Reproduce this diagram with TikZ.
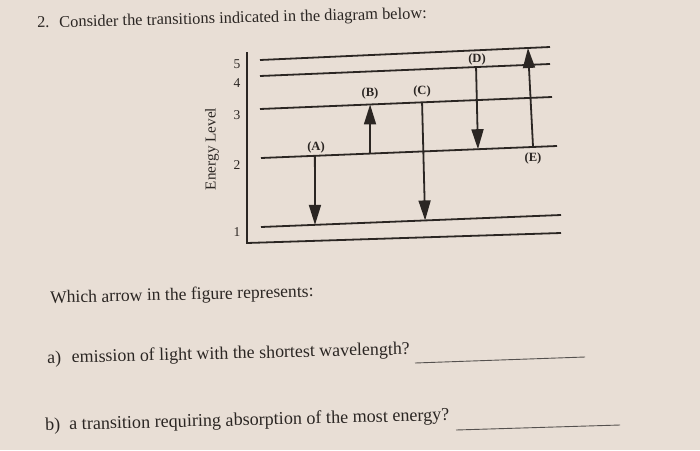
\documentclass[tikz,border=0pt]{standalone}
\usepackage{fontspec}
\setmainfont{Liberation Serif}
\usetikzlibrary{calc,arrows.meta}
\definecolor{paper}{HTML}{E8DED5}
\definecolor{ink}{HTML}{2B2623}
\tikzset{
  lvl/.style={line width=1.8pt, draw=ink},
  trans/.style={line width=1.8pt, draw=ink, -{Triangle[length=20pt,width=12pt]}},
  lab/.style={font=\bfseries\fontsize{12.6}{14}\selectfont, text=ink, inner sep=0pt},
  num/.style={font=\fontsize{13.5}{15}\selectfont, text=ink, inner sep=0pt},
  qtext/.style={text=ink, anchor=west, inner sep=0pt, rotate=1.4},
  blank/.style={line width=0.9pt, draw=ink!80}
}
\begin{document}
\begin{tikzpicture}[x=1pt,y=-1pt]
\fill[paper] (0,0) rectangle (700,450);
\useasboundingbox (0,0) rectangle (700,450);

% axes
\coordinate (ax) at (247,52);
\coordinate (ao) at (247,243);
\coordinate (ar) at (561,233);
\draw[lvl] (ax) -- (ao) -- (ar);

% levels
\coordinate (L5a) at (260,60);  \coordinate (L5b) at (550,47);
\coordinate (L4a) at (260,76);  \coordinate (L4b) at (550,64);
\coordinate (L3a) at (260,109); \coordinate (L3b) at (552,97);
\coordinate (L2a) at (261,158); \coordinate (L2b) at (557,146);
\coordinate (L1a) at (261,227); \coordinate (L1b) at (561,215);
\foreach \i in {1,...,5}{\draw[lvl] (L\i a) -- (L\i b);}

% transition end points
\coordinate (A2) at ($(L2a)!0.182!(L2b)$);
\coordinate (A1) at ($(L1a)!0.180!(L1b)$);
\coordinate (B2) at ($(L2a)!0.368!(L2b)$);
\coordinate (B3) at ($(L3a)!0.377!(L3b)$);
\coordinate (C3) at ($(L3a)!0.555!(L3b)$);
\coordinate (C1) at ($(L1a)!0.547!(L1b)$);
\coordinate (D4) at ($(L4a)!0.745!(L4b)$);
\coordinate (D2) at ($(L2a)!0.733!(L2b)$);
\coordinate (E2) at ($(L2a)!0.919!(L2b)$);
\coordinate (E5) at ($(L5a)!0.924!(L5b)$);

\draw[trans] (A2) -- (A1);
\draw[trans] (B2) -- (B3);
\draw[trans] (C3) -- (C1);
\draw[trans] (D4) -- (D2);
\draw[trans] (E2) -- (E5);

% labels
\node[lab] (la) at (316,147) {(A)};
\node[lab] (lb) at (370,93) {(B)};
\node[lab] (lc) at (422,91) {(C)};
\node[lab] (ld) at (477,59.5) {(D)};
\node[lab] (le) at (533,158) {(E)};

\node[num] (n5) at (237,64) {5};
\node[num] (n4) at (237,83) {4};
\node[num] (n3) at (237,115) {3};
\node[num] (n2) at (237,165) {2};
\node[num] (n1) at (237,232) {1};
\node[font=\fontsize{15.2}{17}\selectfont, text=ink, inner sep=0pt, rotate=90] (el) at (212,149) {Energy Level};

% question text
\node[qtext, font=\fontsize{16.4}{18}\selectfont] (title) at (37,24) {2.\hspace{0.6em}Consider the transitions indicated in the diagram below:};
\node[qtext, font=\fontsize{17.6}{19}\selectfont] (q0) at (50,299) {Which arrow in the figure represents:};
\node[qtext, font=\fontsize{17.9}{20}\selectfont] (qa) at (47,359) {a)\hspace{0.6em}emission of light with the shortest wavelength?};
\node[qtext, font=\fontsize{18.1}{20}\selectfont] (qb) at (45,426) {b)\hspace{0.5em}a transition requiring absorption of the most energy?};
\draw[blank] (415,363) -- (585,357);
\draw[blank] (456,430) -- (620,425);
\end{tikzpicture}
\end{document}
